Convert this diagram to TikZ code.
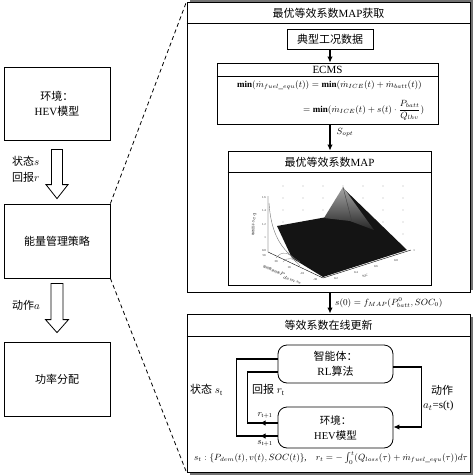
\documentclass[tikz,border=0pt]{standalone}
\usepackage{fontspec}
\setmainfont{Liberation Serif}
\newfontfamily\cjk{Noto Sans CJK SC}
\usetikzlibrary{arrows.meta,calc,shadows}
\begin{document}
\begin{tikzpicture}[x=1pt,y=-1pt,
  box/.style={draw, line width=0.8pt, inner sep=0pt, fill=white, align=center, font=\fontsize{11}{15}\selectfont},
  lbl/.style={font=\fontsize{11}{15}\selectfont, inner sep=0pt},
  panel/.style={draw, line width=0.9pt, fill=white, inner sep=0pt},
  conn/.style={line width=1.3pt, -{Latex[length=6pt,width=5.5pt]}},
  loopline/.style={line width=1.3pt},
  hollow/.style={draw, line width=0.8pt, fill=white},
  mth/.style={font=\fontsize{9}{11}\selectfont, inner sep=0pt},
  tinyt/.style={font=\fontsize{3}{3}\selectfont, inner sep=0pt, text=black!85}]

\useasboundingbox (0,0) rectangle (474,475);

% ---------- left column ----------
\node[box, minimum width=106pt, minimum height=73pt] (env) at (57,103.5) {{\cjk 环境：}\\HEV{\cjk 模型}};
\node[box, minimum width=106pt, minimum height=74pt] (ems) at (57,241) {\cjk 能量管理策略};
\node[box, minimum width=106pt, minimum height=74pt] (pwr) at (57,379) {\cjk 功率分配};

\coordinate (a1) at ($(env.south)+(0,9)$);
\coordinate (a1t) at ($(ems.north)+(0,-5)$);
\draw[hollow] ($(a1)+(-5.5,0)$) -- ($(a1)+(5.5,0)$) -- ($(a1t)+(5.5,-14)$) -- ($(a1t)+(11,-14)$) -- (a1t) -- ($(a1t)+(-11,-14)$) -- ($(a1t)+(-5.5,-14)$) -- cycle;
\coordinate (a2) at ($(ems.south)+(0,5)$);
\coordinate (a2t) at ($(pwr.north)+(0,-9)$);
\draw[hollow] ($(a2)+(-6,0)$) -- ($(a2)+(6,0)$) -- ($(a2t)+(6,-13)$) -- ($(a2t)+(11.5,-13)$) -- (a2t) -- ($(a2t)+(-11.5,-13)$) -- ($(a2t)+(-6,-13)$) -- cycle;

\node[lbl, anchor=west] (ls) at (12,161) {{\cjk 状态}$s$};
\node[lbl, anchor=west] (lr) at (12,177) {{\cjk 回报}$r$};
\node[lbl, anchor=west] (la) at (12,305) {{\cjk 动作}$a$};

% ---------- right panels ----------
\node[panel, minimum width=283pt, minimum height=290pt,
  drop shadow={shadow xshift=2.5pt, shadow yshift=2.5pt, fill=black!55, opacity=1}] (top) at (328.5,147) {};
\draw[line width=0.9pt] ($(top.north west)+(0,22)$) -- ($(top.north east)+(0,22)$);
\node[lbl] (toptitle) at (328.5,13) {{\cjk 最优等效系数}MAP{\cjk 获取}};

\node[panel, minimum width=283pt, minimum height=158pt,
  drop shadow={shadow xshift=2.5pt, shadow yshift=-2.5pt, fill=black!55, opacity=1}] (bot) at (328.5,393) {};
\draw[line width=0.9pt] ($(bot.north west)+(0,23)$) -- ($(bot.north east)+(0,23)$);
\node[lbl] (bottitle) at (328.5,325.5) {\cjk 等效系数在线更新};

% dashed zoom lines
\draw[line width=0.8pt, dash pattern=on 4pt off 3pt] (ems.north east) -- (top.north west);
\draw[line width=0.8pt, dash pattern=on 4pt off 3pt] (ems.south east) -- (bot.south west);

% ---------- top panel content ----------
\node[box, minimum width=86pt, minimum height=20pt] (dat) at (330,39) {\cjk 典型工况数据};
\node[box, minimum width=221pt, minimum height=61pt] (ecms) at (327.5,93.5) {};
\draw[line width=0.8pt] ($(ecms.north west)+(0,14)$) -- ($(ecms.north east)+(0,14)$);
\node[lbl] (ecmst) at (327.5,70) {ECMS};
\node[mth, anchor=west] (f1) at (237,85) {$\mathbf{min}(\dot m_{fuel\_equ}(t)) = \mathbf{min}(\dot m_{ICE}(t)+\dot m_{batt}(t))$};
\node[mth, anchor=west] (f2) at (303,110.5) {$=\mathbf{min}(\dot m_{ICE}(t)+s(t)\cdot\displaystyle\frac{P_{batt}}{Q_{lhv}})$};

\node[box, minimum width=203pt, minimum height=134pt] (map) at (329.5,218) {};
\draw[line width=0.8pt] ($(map.north west)+(0,22)$) -- ($(map.north east)+(0,22)$);
\node[lbl] (mapt) at (329.5,162) {{\cjk 最优等效系数}MAP};

\draw[conn] (dat.south) -- (dat.south |- ecms.north);
\draw[conn] (ecms.south -| dat.south) -- (map.north -| dat.south);
\node[mth] (sopt) at (345,133) {$S_{opt}$};
\draw[conn] (top.south -| dat.south) -- (bot.north -| dat.south);
\node[mth, anchor=west] (s0) at (335,303) {$s(0)=f_{MAP}(P^0_{batt},SOC_0)$};

% ---------- 3D map sketch ----------
\foreach \py in {186,198,210,222,234}
  \foreach \px in {283,303,323,343,363,383,403}
    \fill[black!30] (\px,\py) circle (0.55);
\draw[line width=0.4pt] (268,196) -- (268,252) -- (323,278) -- (411,250);
\fill[black!92] (277,226) -- (327,217) -- (343,188) -- (407,250) -- (323,277) -- (292,258) -- cycle;
\shade[top color=black!35, bottom color=black!85] (324,218) -- (343,187) -- (374,230) -- (350,221) -- cycle;
\draw[black!75, line width=0.4pt] (343,187) -- (352,222);
\draw[black!55, line width=0.4pt] (269,203) .. controls (271,232) and (280,250) .. (300,262);
\draw[black!55, line width=0.3pt] (276,258) .. controls (282,250) and (290,252) .. (296,262);
\draw[black!55, line width=0.3pt] (283,262) .. controls (288,256) and (294,258) .. (300,266);
\foreach \v/\yy in {1.6/198,1.4/211,1.2/225,1/238,0.8/251}
  \node[tinyt, anchor=east] at (266,\yy) {\v};
\node[tinyt, rotate=90] (zl) at (254,224) {{\cjk 等效因子}$s_{eq}$};
\foreach \v/\xx/\yy in {50/264/256,30/276/262,10/289/268,-10/302/274,-30/315/280}
  \node[tinyt] at (\xx,\yy) {\v};
\node[tinyt, rotate=-24] (xl) at (282,275) {{\cjk 驱动需求功率}$P_{dem}$/kW};
\foreach \v/\xx/\yy in {0.2/336/279,0.4/356/273,0.6/376/267,0.8/396/261,1/414/251}
  \node[tinyt] at (\xx,\yy) {\v};
\node[tinyt, rotate=18] (yl) at (365,276) {SOC};

% ---------- bottom panel content ----------
\node[box, rounded corners=9pt, minimum width=115pt, minimum height=38pt] (agent) at (335.5,364) {{\cjk 智能体：}\\RL{\cjk 算法}};
\node[box, rounded corners=9pt, minimum width=115pt, minimum height=41pt, font=\fontsize{10.5}{15}\selectfont] (env2) at (335.5,427.5) {{\cjk 环境：}\\HEV{\cjk 模型}};

\draw[loopline] ($(env2.west)+(0,8.5)$) -- ++(-41,0) |- ($(agent.west)+(0,-5)$);
\draw[loopline,-{Latex[length=6pt,width=5.5pt]}] ($(env2.west)+(0,8.5)$) -- ++(-18,0);
\draw[loopline] ($(env2.west)+(0,-4.5)$) -- ++(-30,0) |- ($(agent.west)+(0,8)$);
\draw[loopline,-{Latex[length=6pt,width=5.5pt]}] ($(env2.west)+(0,-4.5)$) -- ++(-18,0);
\draw[loopline,-{Latex[length=6pt,width=5.5pt]}] ($(agent.east)+(0,3)$) -- ++(28,0) |- ($(env2.east)+(0,-0.5)$);

\node[lbl, anchor=west] (st) at (190,390) {{\cjk 状态} $s_{\mathrm{t}}$};
\node[lbl, anchor=west] (rt) at (252,390) {{\cjk 回报} $r_{\mathrm{t}}$};
\node[mth] (rt1) at (265,415) {$r_{\mathrm{t+1}}$};
\node[mth] (st1) at (265,443) {$s_{\mathrm{t+1}}$};
\node[lbl] (act) at (442,390) {\cjk 动作};
\node[lbl, anchor=west] (at) at (423,406) {$a_t$=s(t)};
\node[mth, font=\fontsize{9.1}{11}\selectfont] (form) at (331,458) {$s_t:\{P_{dem}(t),v(t),SOC(t)\}$,\quad $r_t=-\int_0^t(Q_{loss}(\tau)+\dot m_{fuel\_equ}(\tau))d\tau$};
\end{tikzpicture}
\end{document}
